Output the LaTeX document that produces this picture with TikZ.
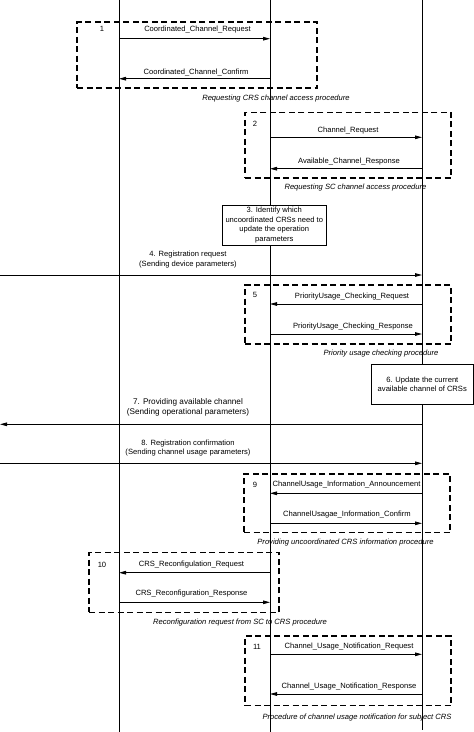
\documentclass[tikz,border=0pt]{standalone}
\usepackage{fontspec}
\setmainfont{Liberation Sans}
\usetikzlibrary{arrows.meta}
\tikzset{
  lifeline/.style={line width=0.8pt},
  msg/.style={line width=0.8pt,-{Triangle[length=7pt,width=3.6pt]}},
  proc/.style={draw,line width=1.5pt,dash pattern=on 6pt off 3.5pt,inner sep=0pt},
  lbl/.style={font=\fontsize{7.6}{9.3}\selectfont,inner sep=0pt,align=center},
  captxt/.style={font=\itshape\fontsize{7.6}{9.3}\selectfont,inner sep=0pt},
  actbox/.style={draw,fill=white,line width=0.8pt,align=center,inner sep=0pt,font=\fontsize{7.6}{9.4}\selectfont}
}
\begin{document}
\begin{tikzpicture}[x=1pt,y=-1pt]
\useasboundingbox (0,0) rectangle (474,732);
% lifelines
\coordinate (L0) at (0,0);
\coordinate (L1t) at (119,0);   \coordinate (L1b) at (119,732);
\coordinate (L2t) at (270,0);   \coordinate (L2b) at (270,732);
\coordinate (L3t) at (422,0);   \coordinate (L3b) at (422,730);
\draw[lifeline] (L1t) -- (L1b);
\draw[lifeline] (L2t) -- (L2b);
\draw[lifeline] (L3t) -- (L3b);

% procedure boxes
\node[proc,minimum width=240pt,minimum height=66pt] (p1) at (197,55) {};
\node[proc,minimum width=206pt,minimum height=65.3pt] (p2) at (348,145.3) {};
\node[proc,minimum width=206pt,minimum height=59pt] (p5) at (348,314.5) {};
\node[proc,minimum width=206pt,minimum height=58.7pt] (p9) at (347,503.3) {};
\node[proc,minimum width=190pt,minimum height=59.6pt] (p10) at (184,582.5) {};
\node[proc,minimum width=206pt,minimum height=69.7pt] (p11) at (348,670.8) {};

% step numbers
\node[lbl] (n1) at (102,29) {1};
\node[lbl] (n2) at (255,124) {2};
\node[lbl] (n5) at (255,294.5) {5};
\node[lbl] (n9) at (255,484.5) {9};
\node[lbl] (n10) at (102,565) {10};
\node[lbl] (n11) at (257,646.5) {11};

% 1
\draw[msg] (L1t |- 0,38.7) -- (L2t |- 0,38.7);
\node[lbl] (m1a) at (197.5,29.5) {Coordinated\_Channel\_Request};
\draw[msg] (L2t |- 0,78.7) -- (L1t |- 0,78.7);
\node[lbl] (m1b) at (196,72.5) {Coordinated\_Channel\_Confirm};
\node[captxt] (c1) at (276,99) {Requesting CRS channel access procedure};

% 2
\draw[msg] (L2t |- 0,137.3) -- (L3t |- 0,137.3);
\node[lbl] (m2a) at (348,131) {Channel\_Request};
\draw[msg] (L3t |- 0,168.7) -- (L2t |- 0,168.7);
\node[lbl] (m2b) at (349,161.5) {Available\_Channel\_Response};
\node[captxt] (c2) at (355.5,188) {Requesting SC channel access procedure};

% 3
\node[actbox,minimum width=103.3pt,minimum height=40pt] (s3) at (274.3,225)
  {3. Identify which\\uncoordinated CRSs need to\\update the operation\\parameters};

% 4
\draw[msg] (L0 |- 0,275) -- (L3t |- 0,275);
\node[lbl] (m4) at (188,259.5) {4. Registration request\\(Sending device parameters)};

% 5
\draw[msg] (L3t |- 0,304) -- (L2t |- 0,304);
\node[lbl] (m5a) at (352,297) {PriorityUsage\_Checking\_Request};
\draw[msg] (L2t |- 0,334) -- (L3t |- 0,334);
\node[lbl] (m5b) at (353,327) {PriorityUsage\_Checking\_Response};
\node[captxt] (c5) at (381,353.5) {Priority usage checking procedure};

% 6
\node[actbox,minimum width=102.5pt,minimum height=40pt] (s6) at (422.3,384)
  {6. Update the current\\available channel of CRSs};

% 7
\draw[msg] (L3t |- 0,424.3) -- (L0 |- 0,424.3);
\node[lbl] (m7) at (188,407.5) {\fontsize{8.2}{10}\selectfont 7. Providing available channel\\\fontsize{8.2}{10}\selectfont(Sending operational parameters)};

% 8
\draw[msg] (L0 |- 0,463.3) -- (L3t |- 0,463.3);
\node[lbl] (m8) at (188,448) {8. Registration confirmation\\(Sending channel usage parameters)};

% 9
\draw[msg] (L3t |- 0,493.3) -- (L2t |- 0,493.3);
\node[lbl] (m9a) at (346.5,484.5) {ChannelUsage\_Information\_Announcement};
\draw[msg] (L2t |- 0,523.3) -- (L3t |- 0,523.3);
\node[lbl] (m9b) at (347,514.5) {ChannelUsagae\_Information\_Confirm};
\node[captxt] (c9) at (345.5,543) {Providing uncoordinated CRS information procedure};

% 10
\draw[msg] (L2t |- 0,572.7) -- (L1t |- 0,572.7);
\node[lbl] (m10a) at (191.5,565) {CRS\_Reconfigulation\_Request};
\draw[msg] (L1t |- 0,602.3) -- (L2t |- 0,602.3);
\node[lbl] (m10b) at (191.5,593.5) {CRS\_Reconfiguration\_Response};
\node[captxt] (c10) at (240,623) {Reconfiguration request from SC to CRS procedure};

% 11
\draw[msg] (L2t |- 0,654.3) -- (L3t |- 0,654.3);
\node[lbl] (m11a) at (349,646.5) {Channel\_Usage\_Notification\_Request};
\draw[msg] (L3t |- 0,694) -- (L2t |- 0,694);
\node[lbl] (m11b) at (349,686.5) {Channel\_Usage\_Notification\_Response};
\node[captxt] (c11) at (357,717.5) {Procedure of channel usage notification for subject CRS};
\end{tikzpicture}
\end{document}
